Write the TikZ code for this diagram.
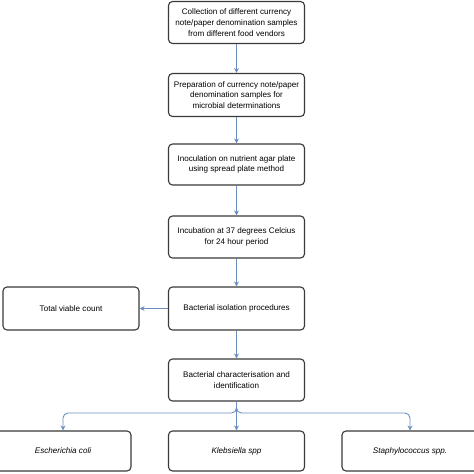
\documentclass[tikz,border=0pt]{standalone}
\usepackage{fontspec}
\setmainfont{Liberation Sans}
\usetikzlibrary{arrows.meta}
\definecolor{arrowblue}{HTML}{6C8EBF}
\definecolor{boxline}{HTML}{3A3A3A}
\tikzset{
  box/.style={draw=boxline, line width=1.1pt, rounded corners=4pt, fill=white,
    minimum width=136pt, minimum height=42pt, align=center,
    font=\fontsize{8.1}{10.8}\selectfont, inner sep=2pt},
  conn/.style={draw=arrowblue, line width=0.9pt, -{Stealth[length=5pt,width=5pt]}},
}
\begin{document}
\begin{tikzpicture}[x=1pt,y=-1pt]
\useasboundingbox (0,0) rectangle (474,474);
\fill[white] (0,0) rectangle (474,474);
\node[box] (b1) at (236.5,22.5) {Collection of different currency\\note/paper denomination samples\\from different food vendors};
\node[box, minimum height=43pt] (b2) at (236.5,95) {Preparation of currency note/paper\\denomination samples for\\microbial determinations};
\node[box, minimum height=41pt] (b3) at (236.5,164.5) {Inoculation on nutrient agar plate\\using spread plate method};
\node[box] (b4) at (236.5,237) {Incubation at 37 degrees Celcius\\for 24 hour period};
\node[box, minimum height=43pt] (b5) at (236.5,308.5) {Bacterial isolation procedures};
\node[box, minimum height=43pt] (tvc) at (71,308.5) {Total viable count};
\node[box] (b6) at (236.5,380) {Bacterial characterisation and\\identification};
\node[box, minimum height=40pt] (e) at (63,451) {\itshape Escherichia coli};
\node[box, minimum height=40pt] (k) at (236.5,451) {\itshape Klebsiella spp};
\node[box, minimum height=40pt] (s) at (410,451) {\itshape Staphylococcus spp.};
\draw[conn] (b1) -- (b2);
\draw[conn] (b2) -- (b3);
\draw[conn] (b3) -- (b4);
\draw[conn] (b4) -- (b5);
\draw[conn] (b5) -- (tvc);
\draw[conn] (b5) -- (b6);
\coordinate (j) at (236.5,413);
\draw[conn] (b6) -- (k);
\draw[conn, rounded corners=5pt] (b6.south) -- (j) -| (e.north);
\draw[conn, rounded corners=5pt] (b6.south) -- (j) -| (s.north);
\end{tikzpicture}
\end{document}
